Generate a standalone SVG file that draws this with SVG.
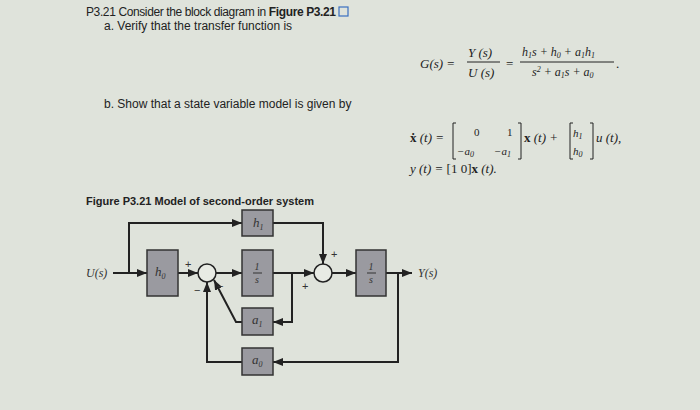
<svg xmlns="http://www.w3.org/2000/svg" width="700" height="410" viewBox="0 0 700 410">
<defs>
<marker id="ar" viewBox="0 0 10 10" refX="10" refY="5" markerWidth="5" markerHeight="5" orient="auto-start-reverse"><path d="M0,1 L10,5 L0,9 z" fill="#222"/></marker>
<style>
.t{font-family:"Liberation Sans",Arial,sans-serif;fill:#222}
.m{font-family:"Liberation Serif","Times New Roman",serif;font-style:italic;fill:#333}
.b{fill:#9a9aa0;stroke:#333;stroke-width:1.5}
.w{fill:none;stroke:#222;stroke-width:2}
.s{fill:#e8ebe4;stroke:#222;stroke-width:1.5}
.sb{font-size:8px}
</style>
</defs>
<rect width="700" height="410" fill="#dfe3db"/>
<text class="t" x="86" y="16" font-size="12" textLength="250">P3.21 Consider the block diagram in <tspan font-weight="bold">Figure P3.21</tspan></text>
<rect x="339" y="7" width="9" height="9" fill="none" stroke="#3a6fc0" stroke-width="1.2"/>
<text class="t" x="104" y="30" font-size="12">a. Verify that the transfer function is</text>
<text class="t" x="104" y="108" font-size="12">b. Show that a state variable model is given by</text>
<text class="t" x="86" y="205" font-size="11" font-weight="bold">Figure P3.21 Model of second-order system</text>
<g font-family="Liberation Serif,serif" font-size="13" fill="#222" font-style="italic">
<text x="420" y="68">G(s) =</text>
<text x="468" y="57">Y (s)</text>
<line x1="467" y1="62" x2="500" y2="62" stroke="#222"/>
<text x="468" y="77">U (s)</text>
<text x="506" y="68" font-style="normal">=</text>
<text x="522" y="56" font-size="12">h<tspan class="sb" dy="2">1</tspan><tspan dy="-2">s + h</tspan><tspan class="sb" dy="2">0</tspan><tspan dy="-2"> + a</tspan><tspan class="sb" dy="2">1</tspan><tspan dy="-2">h</tspan><tspan class="sb" dy="2">1</tspan></text>
<line x1="520" y1="62" x2="614" y2="62" stroke="#222"/>
<text x="532" y="76" font-size="12">s<tspan class="sb" dy="-4">2</tspan><tspan dy="4"> + a</tspan><tspan class="sb" dy="2">1</tspan><tspan dy="-2">s + a</tspan><tspan class="sb" dy="2">0</tspan></text>
<text x="616" y="68" font-style="normal">.</text>
<text x="410" y="142"><tspan font-weight="bold" font-style="normal">ẋ</tspan> (t) =</text>
<path d="M456,123 h-3 v36 h3 M518,123 h3 v36 h-3" fill="none" stroke="#222"/>
<text x="474" y="136" font-size="11" font-style="normal">0</text>
<text x="507" y="136" font-size="11" font-style="normal">1</text>
<text x="457" y="155" font-size="11">−a<tspan class="sb" dy="2">0</tspan></text>
<text x="494" y="155" font-size="11">−a<tspan class="sb" dy="2">1</tspan></text>
<text x="524" y="142"><tspan font-weight="bold" font-style="normal">x</tspan> (t) +</text>
<path d="M573,123 h-3 v36 h3 M590,123 h3 v36 h-3" fill="none" stroke="#222"/>
<text x="573" y="137" font-size="11">h<tspan class="sb" dy="2">1</tspan></text>
<text x="573" y="155" font-size="11">h<tspan class="sb" dy="2">0</tspan></text>
<text x="596" y="142">u (t),</text>
<text x="410" y="173">y (t) = <tspan font-style="normal">[1   0]</tspan><tspan font-weight="bold" font-style="normal">x</tspan> (t).</text>
</g>
<g id="connectors">
<path class="w" d="M113,273 H147" marker-end="url(#ar)"/>
<path class="w" d="M129,273 V223 H242" marker-end="url(#ar)"/>
<path class="w" d="M178,273 H198" marker-end="url(#ar)"/>
<path class="w" d="M216,273 H242" marker-end="url(#ar)"/>
<path class="w" d="M273,273 H314" marker-end="url(#ar)"/>
<path class="w" d="M273,223 H323 V264" marker-end="url(#ar)"/>
<path class="w" d="M292,273 V322 H273" marker-end="url(#ar)"/>
<path class="w" d="M242,322 H236 L214,280" marker-end="url(#ar)"/>
<path class="w" d="M332,273 H356" marker-end="url(#ar)"/>
<path class="w" d="M386,273 H412" marker-end="url(#ar)"/>
<path class="w" d="M398,273 V362 H273" marker-end="url(#ar)"/>
<path class="w" d="M242,362 H207 V282" marker-end="url(#ar)"/>
</g>
<g id="sum1"><circle class="s" cx="207" cy="273" r="9"/></g>
<g id="sum2"><circle class="s" cx="323" cy="273" r="9"/></g>
<g id="h1"><rect class="b" x="242" y="210" width="31" height="26"/><text class="m" x="253" y="227" font-size="13">h<tspan class="sb" dy="3">1</tspan></text></g>
<g id="h0"><rect class="b" x="147" y="250" width="31" height="46"/><text class="m" x="155" y="276" font-size="13">h<tspan class="sb" dy="3">0</tspan></text></g>
<g id="int1"><rect class="b" x="242" y="250" width="31" height="46"/><text class="m" x="257" y="270" font-size="10" text-anchor="middle" font-style="normal">1</text><line x1="253" y1="273" x2="262" y2="273" stroke="#333"/><text class="m" x="257" y="283" font-size="10" text-anchor="middle">s</text></g>
<g id="int2"><rect class="b" x="356" y="250" width="30" height="46"/><text class="m" x="371" y="270" font-size="10" text-anchor="middle" font-style="normal">1</text><line x1="367" y1="273" x2="376" y2="273" stroke="#333"/><text class="m" x="371" y="283" font-size="10" text-anchor="middle">s</text></g>
<g id="a1"><rect class="b" x="242" y="308" width="31" height="27"/><text class="m" x="252" y="324" font-size="13">a<tspan class="sb" dy="3">1</tspan></text></g>
<g id="a0"><rect class="b" x="242" y="348" width="31" height="27"/><text class="m" x="252" y="364" font-size="13">a<tspan class="sb" dy="3">0</tspan></text></g>
<g font-family="Liberation Sans,sans-serif" font-size="11" fill="#333">
<text x="185" y="268">+</text><text x="194" y="294">−</text><text x="217" y="290">−</text>
<text x="331" y="258">+</text><text x="302" y="290">+</text>
</g>
<text class="m" x="86" y="277" font-size="12">U(s)</text>
<text class="m" x="418" y="277" font-size="12">Y(s)</text>
</svg>
